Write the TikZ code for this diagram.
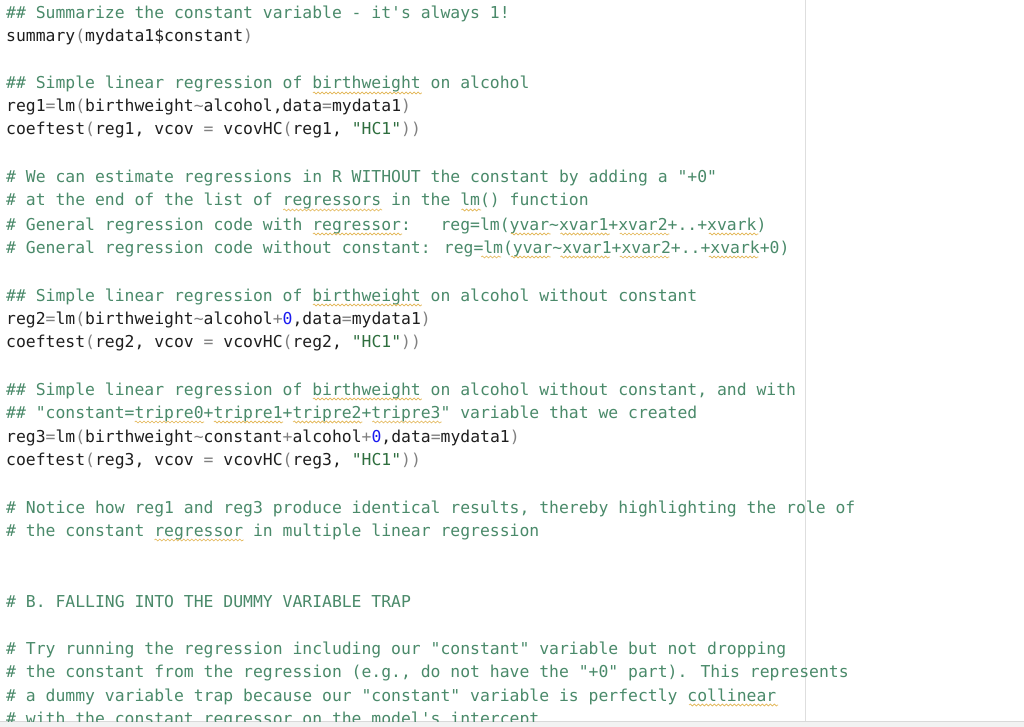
\documentclass[tikz,border=0pt]{standalone}
\usepackage{fontspec}
\usetikzlibrary{decorations.pathmorphing}
\newfontfamily\cf[Ligatures=ResetAll]{DejaVu Sans Mono}
\definecolor{cmt}{HTML}{4A8A6A}
\definecolor{code}{HTML}{1E1E1E}
\definecolor{opc}{HTML}{808080}
\definecolor{strc}{HTML}{2E6E3E}
\definecolor{numc}{HTML}{1A1AF0}
\definecolor{wav}{HTML}{E2B450}
\newcommand{\cm}[1]{\textcolor{cmt}{#1}}
\newcommand{\op}[1]{\textcolor{opc}{#1}}
\newcommand{\sq}[1]{\textcolor{strc}{#1}}
\newcommand{\bl}[1]{\textcolor{numc}{#1}}
\newcommand{\tl}{\string~}
\newcommand{\wv}[3]{\draw[wavy] ({6+#2*9.9},{#1+4}) -- ({6+#3*9.9},{#1+4});}
\tikzset{ln/.style={anchor=base west,inner sep=0,font=\cf\fontsize{16.4}{18}\selectfont,text=code},
wavy/.style={draw=wav,line width=0.6pt,decorate,decoration={snake,amplitude=1pt,segment length=4pt}}}
\begin{document}
\begin{tikzpicture}[x=1pt,y=-1pt]
\useasboundingbox (0,0) rectangle (1024,727);
\fill[white] (0,0) rectangle (1024,727);
\fill[black!5] (0,721) rectangle (1024,727);
\draw[black!15] (0,721) -- (1024,721);
\draw[black!13] (805,0) -- (805,721);
\node[ln] (a1) at (6,19) {\cm{\#\# Summarize the constant variable - it\char"27 s always 1!}};
\node[ln] (a2) at (6,42) {summary\op{(}mydata1\$constant\op{)}};
\node[ln] (b1) at (6,89) {\cm{\#\# Simple linear regression of birthweight on alcohol}};
\node[ln] (b2) at (6,112) {reg1\op{=}lm\op{(}birthweight\op{\tl}alcohol,data\op{=}mydata1\op{)}};
\node[ln] (b3) at (6,135) {coeftest\op{(}reg1, vcov \op{=} vcovHC\op{(}reg1, \sq{"HC1"}\op{))}};
\node[ln] (c1) at (6,183) {\cm{\# We can estimate regressions in R WITHOUT the constant by adding a "+0"}};
\node[ln] (c2) at (6,206) {\cm{\# at the end of the list of regressors in the lm() function}};
\node[ln] (c3) at (6,230) {\cm{\# General regression code with regressor:\ \ \ reg=lm(yvar\tl xvar1+xvar2+..+xvark)}};
\node[ln] (c4) at (6,253) {\cm{\# General regression code without constant: reg=lm(yvar\tl xvar1+xvar2+..+xvark+0)}};
\node[ln] (d1) at (6,301) {\cm{\#\# Simple linear regression of birthweight on alcohol without constant}};
\node[ln] (d2) at (6,324) {reg2\op{=}lm\op{(}birthweight\op{\tl}alcohol\op{+}\bl{0},data\op{=}mydata1\op{)}};
\node[ln] (d3) at (6,347) {coeftest\op{(}reg2, vcov \op{=} vcovHC\op{(}reg2, \sq{"HC1"}\op{))}};
\node[ln] (e1) at (6,395) {\cm{\#\# Simple linear regression of birthweight on alcohol without constant, and with}};
\node[ln] (e2) at (6,418) {\cm{\#\# "constant=tripre0+tripre1+tripre2+tripre3" variable that we created}};
\node[ln] (e3) at (6,442) {reg3\op{=}lm\op{(}birthweight\op{\tl}constant\op{+}alcohol\op{+}\bl{0},data\op{=}mydata1\op{)}};
\node[ln] (e4) at (6,465) {coeftest\op{(}reg3, vcov \op{=} vcovHC\op{(}reg3, \sq{"HC1"}\op{))}};
\node[ln] (f1) at (6,513) {\cm{\# Notice how reg1 and reg3 produce identical results, thereby highlighting the role of}};
\node[ln] (f2) at (6,536) {\cm{\# the constant regressor in multiple linear regression}};
\node[ln] (g1) at (6,607) {\cm{\# B. FALLING INTO THE DUMMY VARIABLE TRAP}};
\node[ln] (h1) at (6,654) {\cm{\# Try running the regression including our "constant" variable but not dropping}};
\node[ln] (h2) at (6,677) {\cm{\# the constant from the regression (e.g., do not have the "+0" part). This represents}};
\node[ln] (h3) at (6,701) {\cm{\# a dummy variable trap because our "constant" variable is perfectly collinear}};
\begin{scope}
\clip (0,0) rectangle (1024,721);
\node[ln] (h4) at (6,724) {\cm{\# with the constant regressor on the model\char"27 s intercept}};
\end{scope}
\wv{89}{31}{42}
\wv{206}{28}{38}\wv{206}{46}{48}
\wv{230}{31}{40}\wv{230}{51}{55}\wv{230}{56}{61}\wv{230}{62}{67}\wv{230}{71}{76}
\wv{253}{48}{50}\wv{253}{51}{55}\wv{253}{56}{61}\wv{253}{62}{67}\wv{253}{71}{76}
\wv{301}{31}{42}
\wv{395}{31}{42}
\wv{418}{13}{20}\wv{418}{21}{28}\wv{418}{29}{36}\wv{418}{37}{44}
\wv{536}{15}{24}
\wv{701}{69}{78}
\end{tikzpicture}
\end{document}
